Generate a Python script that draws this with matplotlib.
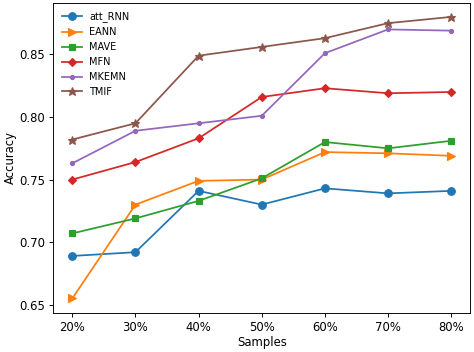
import numpy as np
import matplotlib
matplotlib.use("Agg")
import matplotlib.pyplot as plt

samples = ["20%", "30%", "40%", "50%", "60%", "70%", "80%"]
att_rnn = [0.689, 0.692, 0.741, 0.730, 0.743, 0.739, 0.741]
eann = [0.655, 0.730, 0.749, 0.750, 0.772, 0.771, 0.769]
mave = [0.707, 0.719, 0.733, 0.751, 0.780, 0.775, 0.781]
mfn = [0.750, 0.764, 0.783, 0.816, 0.823, 0.819, 0.820]
mkemn = [0.763, 0.789, 0.795, 0.801, 0.851, 0.870, 0.869]
tmif = [0.782, 0.795, 0.849, 0.856, 0.863, 0.875, 0.880]

# drawn at 84 dpi so the default sizes come out like the reference
fig, ax = plt.subplots(figsize=(474 / 84, 352 / 84), dpi=84)
x = np.arange(len(samples))

ax.plot(x, att_rnn, marker="o", markersize=6.5, label="att_RNN")
ax.plot(x, eann, marker=">", markersize=7, label="EANN")
ax.plot(x, mave, marker="s", markersize=4.5, label="MAVE")
ax.plot(x, mfn, marker="D", markersize=4.5, label="MFN")
ax.plot(x, mkemn, marker="o", markersize=3.5, label="MKEMN")
ax.plot(x, tmif, marker="*", markersize=7.5, label="TMIF")

ax.set_xticks(x)
ax.set_xticklabels(samples)
ax.set_xlabel("Samples", labelpad=2)
ax.set_ylabel("Accuracy", labelpad=2)
ax.legend(loc="upper left", frameon=False, fontsize="small")

fig.subplots_adjust(left=0.1125, right=0.992, top=0.992, bottom=0.112)
fig.savefig("out.png", dpi=84)
